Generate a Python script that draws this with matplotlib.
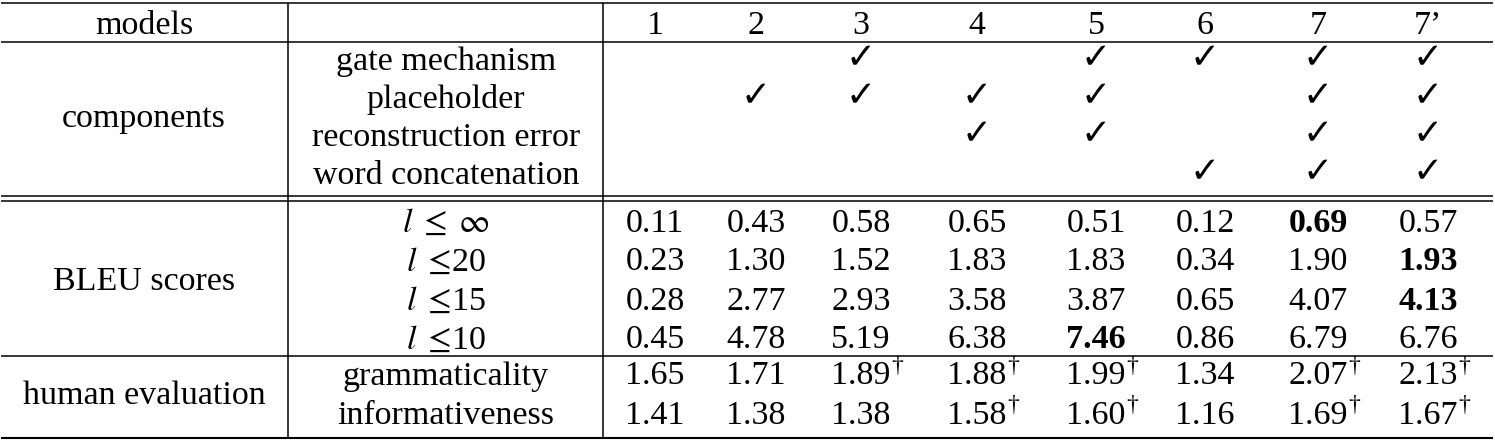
import matplotlib
matplotlib.use("Agg")
import matplotlib.pyplot as plt

plt.rcParams['font.family'] = ['Liberation Serif', 'DejaVu Sans']
plt.rcParams['mathtext.fontset'] = 'stix'

# ---------------- data ----------------
models = ["1", "2", "3", "4", "5", "6", "7", "7’"]
components = ["gate mechanism", "placeholder", "reconstruction error", "word concatenation"]
gate_mechanism = [0, 0, 1, 0, 1, 1, 1, 1]
placeholder = [0, 1, 1, 1, 1, 0, 1, 1]
reconstruction_error = [0, 0, 0, 1, 1, 0, 1, 1]
word_concatenation = [0, 0, 0, 0, 0, 1, 1, 1]
component_flags = [gate_mechanism, placeholder, reconstruction_error, word_concatenation]

bleu_labels = [r"$l\;{\leq}\;\infty$", r"$l\;{\leq}\!$20", r"$l\;{\leq}\!$15", r"$l\;{\leq}\!$10"]
bleu_inf = [0.11, 0.43, 0.58, 0.65, 0.51, 0.12, 0.69, 0.57]
bleu_20 = [0.23, 1.30, 1.52, 1.83, 1.83, 0.34, 1.90, 1.93]
bleu_15 = [0.28, 2.77, 2.93, 3.58, 3.87, 0.65, 4.07, 4.13]
bleu_10 = [0.45, 4.78, 5.19, 6.38, 7.46, 0.86, 6.79, 6.76]
bleu_values = [bleu_inf, bleu_20, bleu_15, bleu_10]
bleu_bold = [6, 7, 7, 4]  # index of best model per row

human_labels = ["grammaticality", "informativeness"]
grammaticality = [1.65, 1.71, 1.89, 1.88, 1.99, 1.34, 2.07, 2.13]
informativeness = [1.41, 1.38, 1.38, 1.58, 1.60, 1.16, 1.69, 1.67]
grammaticality_dagger = [0, 0, 1, 1, 1, 0, 1, 1]
informativeness_dagger = [0, 0, 0, 1, 1, 0, 1, 1]
human_values = [grammaticality, informativeness]
human_daggers = [grammaticality_dagger, informativeness_dagger]

# ---------------- layout ----------------
W, H = 1495, 443
fig = plt.figure(figsize=(W / 100, H / 100), dpi=100)
ax = fig.add_axes([0, 0, 1, 1])
ax.set_xlim(0, W)
ax.set_ylim(H, 0)
ax.axis("off")

FS = 24.5
col0_x = 144
col1_x = 446
model_x = [655, 756, 861, 977, 1096, 1205, 1318, 1428]
header_y = 22
comp_y = [58, 96, 134, 172.5]
bleu_y = [220, 259, 298, 337]
human_y = [373, 412]
BASE = 11.5  # baseline offset from row centre

def txt(x, y, s, **kw):
    ax.text(x, y + BASE, s, ha="center", va="baseline", fontsize=FS, **kw)

# horizontal rules
lw = 1.1
x0, x1 = 1, 1493
for y in [3, 42, 196, 201, 356]:
    ax.plot([x0, x1], [y, y], color="black", lw=lw, solid_capstyle="butt")
ax.plot([x0, x1], [438, 438], color="black", lw=1.5, solid_capstyle="butt")
# vertical rules
for x in [288, 603]:
    ax.plot([x, x], [3, 438], color="black", lw=lw, solid_capstyle="butt")

# header
txt(col0_x, header_y, "models")
for x, m in zip(model_x, models):
    txt(x, header_y, m)

# components
txt(col0_x, (comp_y[0] + comp_y[-1]) / 2, "components")
for y, name, flags in zip(comp_y, components, component_flags):
    txt(col1_x, y, name)
    for x, f in zip(model_x, flags):
        if f:
            ax.text(x, y, "✓", ha="center", va="center", fontsize=26,
                    family="DejaVu Sans", fontweight="bold")

# BLEU
txt(col0_x, (bleu_y[0] + bleu_y[-1]) / 2, "BLEU scores")
for y, lab, vals, b in zip(bleu_y, bleu_labels, bleu_values, bleu_bold):
    txt(col1_x, y, lab)
    for i, (x, v) in enumerate(zip(model_x, vals)):
        txt(x, y, f"{v:.2f}", fontweight="bold" if i == b else "normal")

# human evaluation
txt(col0_x, (human_y[0] + human_y[-1]) / 2, "human evaluation")
for y, lab, vals, dags in zip(human_y, human_labels, human_values, human_daggers):
    txt(col1_x, y, lab)
    for x, v, d in zip(model_x, vals, dags):
        txt(x, y, f"{v:.2f}")
        if d:
            ax.text(x + 30, y - 1, "†", ha="left", va="baseline",
                    fontsize=17)

fig.savefig("out.png", dpi=100)
